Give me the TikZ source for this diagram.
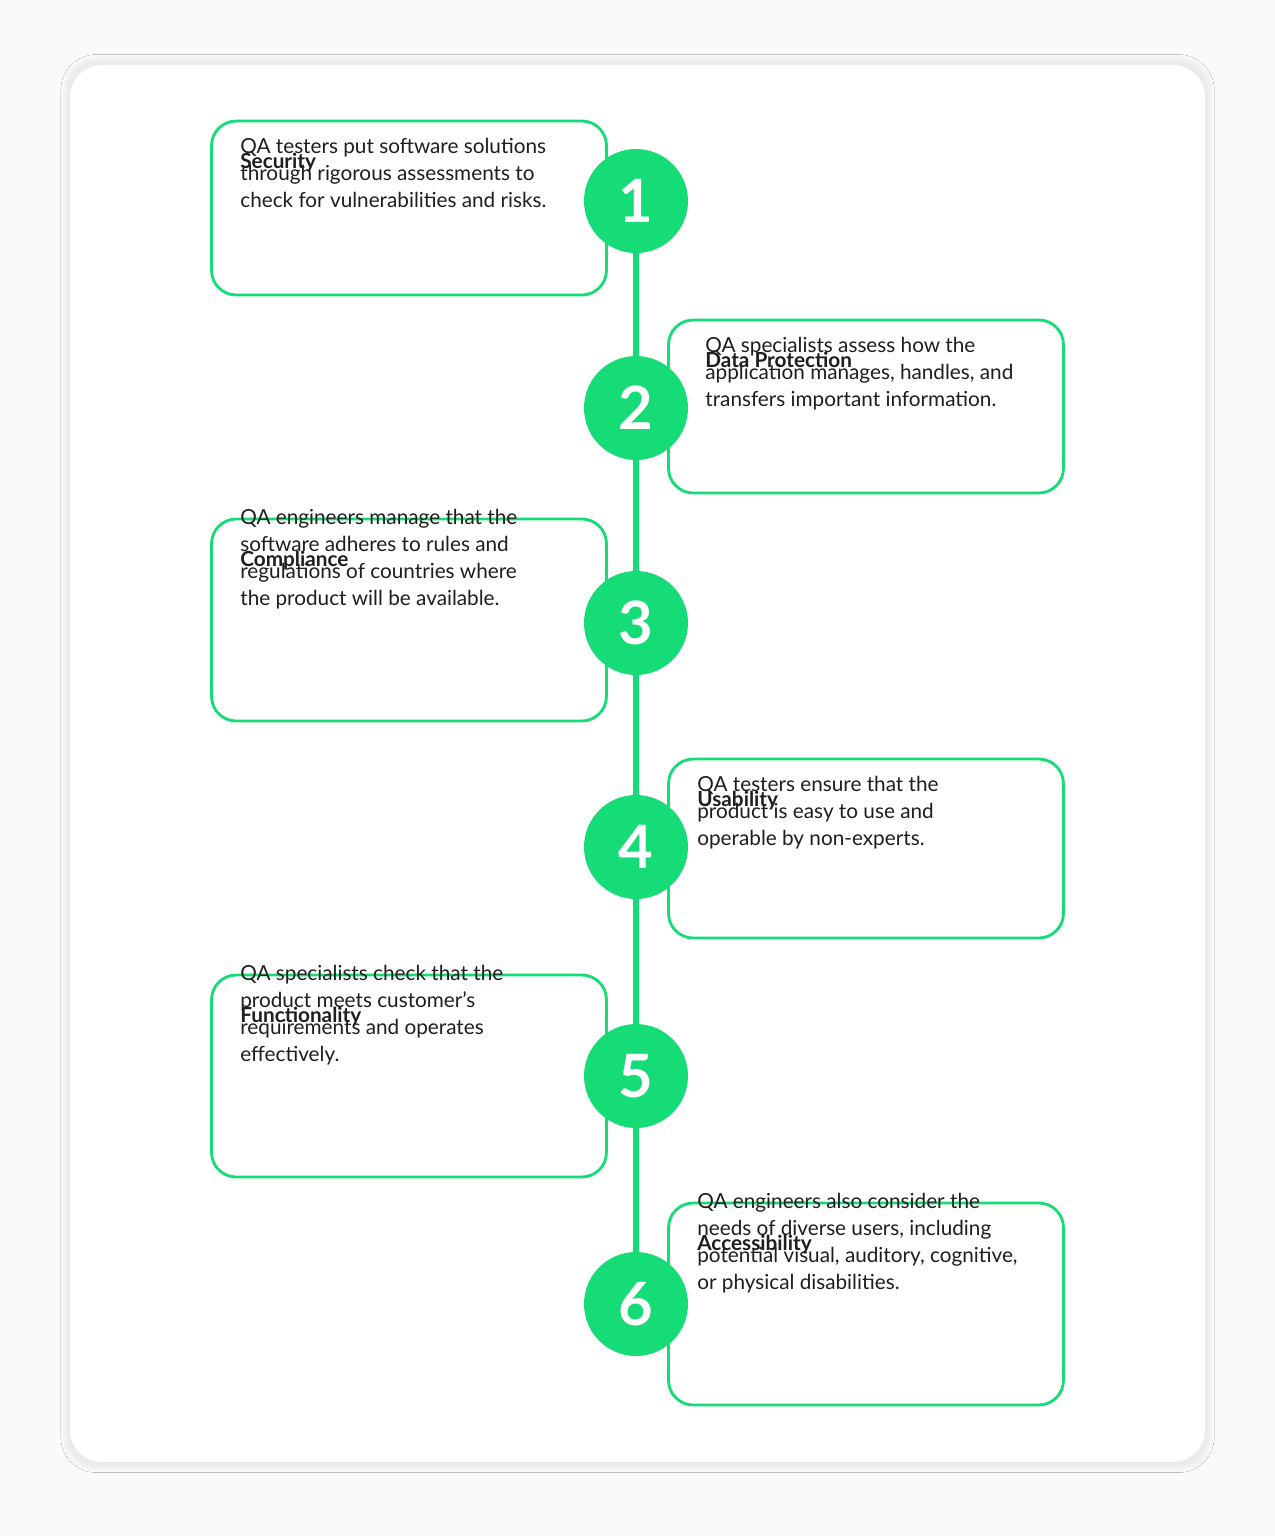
\documentclass[tikz,border=0pt]{standalone}
\usepackage{fontspec}
\setmainfont{Lato}
\usetikzlibrary{positioning,shadows.blur}
\definecolor{qagreen}{HTML}{16DC78}
\definecolor{qatext}{HTML}{1E1E1E}
\begin{document}
\begin{tikzpicture}[x=0.02cm,y=-0.02cm,
  card/.style={draw=qagreen,line width=1.6pt,rounded corners=14pt,fill=white,
    minimum width=7.9cm,inner sep=0pt},
  num/.style={circle,fill=qagreen,minimum size=2.08cm,inner sep=0pt,
    text=white,font=\fontsize{34}{34}\selectfont\bfseries},
  title/.style={anchor=base west,inner sep=0pt,text=qatext,
    font=\fontsize{11.8}{14}\selectfont\bfseries},
  body/.style={anchor=base west,inner sep=0pt,text=qatext,align=left,
    font=\fontsize{11.8}{15.35}\selectfont}]
  \useasboundingbox (0,0) rectangle (1275,1536);
  \fill[black!2] (0,0) rectangle (1275,1536);
  \node[fill=white,rounded corners=18pt,minimum width=22.7cm,minimum height=27.94cm,
    blur shadow={shadow blur steps=10,shadow xshift=0pt,shadow yshift=0pt,shadow opacity=6,shadow scale=1.01}]
    (panel) at (637.5,763.5) {};

  % cards
  \node[card,minimum height=3.48cm] (c1) at (409,208) {};
  \node[card,minimum height=3.46cm] (c2) at (866,406.5) {};
  \node[card,minimum height=4.04cm] (c3) at (409,620) {};
  \node[card,minimum height=3.58cm] (c4) at (866,848.5) {};
  \node[card,minimum height=4.04cm] (c5) at (409,1076) {};
  \node[card,minimum height=4.04cm] (c6) at (866,1304) {};

  % timeline
  \node[num] (n1) at (636,201) {1};
  \node[num] (n2) at (636,408) {2};
  \node[num] (n3) at (636,623) {3};
  \node[num] (n4) at (636,847) {4};
  \node[num] (n5) at (636,1076) {5};
  \node[num] (n6) at (636,1304) {6};
  \foreach \a/\b in {n1/n2,n2/n3,n3/n4,n4/n5,n5/n6}
    \draw[qagreen,line width=3.2pt] (\a) -- (\b);

  % texts
  \node[title] (t1) at (240,168) {Security};
  \node[body] (b1) at (240,207) {QA testers put software solutions\\through rigorous assessments to\\check for vulnerabilities and risks.};
  \node[title] (t2) at (705,367) {Data Protection};
  \node[body] (b2) at (705,406) {QA specialists assess how the\\application manages, handles, and\\transfers important information.};
  \node[title] (t3) at (240,566) {Compliance};
  \node[body] (b3) at (240,605) {QA engineers manage that the\\software adheres to rules and\\regulations of countries where\\the product will be available.};
  \node[title] (t4) at (697,806) {Usability};
  \node[body] (b4) at (697,845) {QA testers ensure that the\\product is easy to use and\\operable by non-experts.};
  \node[title] (t5) at (240,1022) {Functionality};
  \node[body] (b5) at (240,1061) {QA specialists check that the\\product meets customer’s\\requirements and operates\\effectively.};
  \node[title] (t6) at (697,1250) {Accessibility};
  \node[body] (b6) at (697,1289) {QA engineers also consider the\\needs of diverse users, including\\potential visual, auditory, cognitive,\\or physical disabilities.};
\end{tikzpicture}
\end{document}
